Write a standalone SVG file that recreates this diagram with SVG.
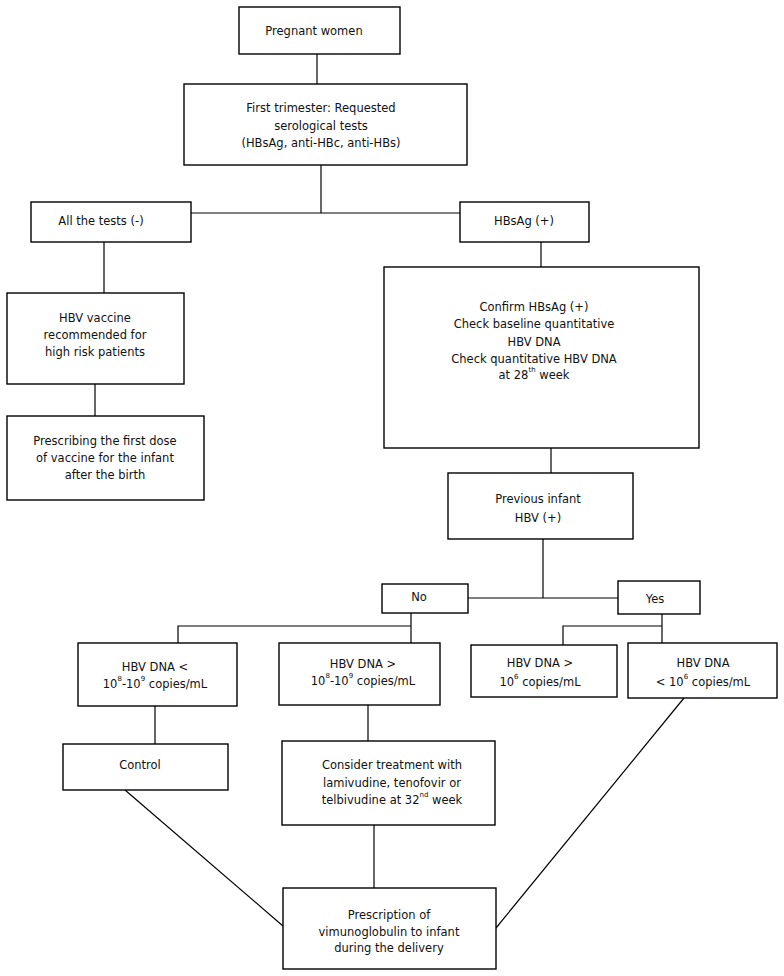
<svg xmlns="http://www.w3.org/2000/svg" width="784" height="976" viewBox="0 0 784 976">
<style>
rect{fill:#fff;stroke:#000;stroke-width:1.4}
.c line,.c polyline{stroke:#000;stroke-width:1.2;fill:none}
text{font-family:"DejaVu Sans",Verdana,sans-serif;font-size:11.5px;fill:#111;text-anchor:middle;dominant-baseline:central}
.s{font-size:7px}
</style>
<rect x="0" y="0" width="784" height="976" style="fill:#fff;stroke:none"/>
<g class="c">
<line x1="317" y1="54" x2="317" y2="84"/>
<line x1="321" y1="165" x2="321" y2="213"/>
<line x1="191" y1="213" x2="460" y2="213"/>
<line x1="104" y1="242" x2="104" y2="293"/>
<line x1="95" y1="384" x2="95" y2="416"/>
<line x1="541" y1="242" x2="541" y2="267"/>
<line x1="551" y1="448" x2="551" y2="473"/>
<line x1="543" y1="539" x2="543" y2="598"/>
<line x1="468" y1="598" x2="618" y2="598"/>
<polyline points="411,613 411,643"/>
<polyline points="411,626 178,626 178,643"/>
<polyline points="662,614 662,643"/>
<polyline points="662,626 563,626 563,645"/>
<line x1="155" y1="706" x2="155" y2="744"/>
<line x1="368" y1="705" x2="368" y2="741"/>
<line x1="374" y1="825" x2="374" y2="888"/>
<line x1="125" y1="790" x2="283" y2="926"/>
<line x1="684" y1="698" x2="496" y2="928"/>
</g>
<g id="n1"><rect x="239" y="7" width="161" height="47"/><text x="314" y="31">Pregnant women</text></g>
<g id="n2"><rect x="184" y="84" width="283" height="81"/>
<text x="321" y="108">First trimester: Requested</text>
<text x="321" y="126">serological tests</text>
<text x="321" y="143">(HBsAg, anti-HBc, anti-HBs)</text></g>
<g id="n3"><rect x="31" y="202" width="160" height="40"/><text x="101" y="221">All the tests (-)</text></g>
<g id="n4"><rect x="460" y="202" width="129" height="40"/><text x="524" y="221">HBsAg (+)</text></g>
<g id="n5"><rect x="7" y="293" width="177" height="91"/>
<text x="95" y="318">HBV vaccine</text>
<text x="95" y="335">recommended for</text>
<text x="95" y="352">high risk patients</text></g>
<g id="n6"><rect x="7" y="416" width="197" height="84"/>
<text x="105" y="441">Prescribing the first dose</text>
<text x="105" y="458">of vaccine for the infant</text>
<text x="105" y="475">after the birth</text></g>
<g id="n7"><rect x="384" y="267" width="315" height="181"/>
<text x="534" y="307">Confirm HBsAg (+)</text>
<text x="534" y="324">Check baseline quantitative</text>
<text x="534" y="342">HBV DNA</text>
<text x="534" y="359">Check quantitative HBV DNA</text>
<text x="534" y="375">at 28<tspan class="s" dy="-5">th</tspan><tspan dy="5"> week</tspan></text></g>
<g id="n8"><rect x="448" y="473" width="185" height="66"/>
<text x="538" y="499">Previous infant</text>
<text x="538" y="518">HBV (+)</text></g>
<g id="n9"><rect x="382" y="584" width="86" height="29"/><text x="419" y="597">No</text></g>
<g id="n10"><rect x="618" y="581" width="82" height="33"/><text x="655" y="599">Yes</text></g>
<g id="n11"><rect x="78" y="643" width="159" height="63"/>
<text x="155" y="667">HBV DNA &lt;</text>
<text x="155" y="684">10<tspan class="s" dy="-5">8</tspan><tspan dy="5">-10</tspan><tspan class="s" dy="-5">9</tspan><tspan dy="5"> copies/mL</tspan></text></g>
<g id="n12"><rect x="279" y="643" width="161" height="62"/>
<text x="363" y="664">HBV DNA &gt;</text>
<text x="363" y="681">10<tspan class="s" dy="-5">8</tspan><tspan dy="5">-10</tspan><tspan class="s" dy="-5">9</tspan><tspan dy="5"> copies/mL</tspan></text></g>
<g id="n13"><rect x="471" y="645" width="146" height="52"/>
<text x="540" y="663">HBV DNA &gt;</text>
<text x="540" y="682">10<tspan class="s" dy="-5">6</tspan><tspan dy="5"> copies/mL</tspan></text></g>
<g id="n14"><rect x="628" y="643" width="149" height="55"/>
<text x="703" y="663">HBV DNA</text>
<text x="703" y="682">&lt; 10<tspan class="s" dy="-5">6</tspan><tspan dy="5"> copies/mL</tspan></text></g>
<g id="n15"><rect x="63" y="744" width="165" height="46"/><text x="140" y="765">Control</text></g>
<g id="n16"><rect x="282" y="741" width="213" height="84"/>
<text x="392" y="765">Consider treatment with</text>
<text x="392" y="783">lamivudine, tenofovir or</text>
<text x="392" y="800">telbivudine at 32<tspan class="s" dy="-5">nd</tspan><tspan dy="5"> week</tspan></text></g>
<g id="n17"><rect x="283" y="888" width="213" height="81"/>
<text x="389" y="915">Prescription of</text>
<text x="389" y="932">vimunoglobulin to infant</text>
<text x="389" y="948">during the delivery</text></g>
</svg>
